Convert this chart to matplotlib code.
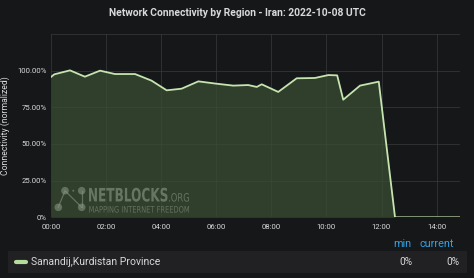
import matplotlib.pyplot as plt
from matplotlib.patches import Rectangle, Circle, PathPatch
from matplotlib.textpath import TextPath
from matplotlib.font_manager import FontProperties
from matplotlib.transforms import Affine2D

# datos (horas UTC, conectividad %)
hours = [0.0, 0.12, 0.69, 1.23, 1.78, 2.32, 3.05, 3.65, 4.2, 4.74, 5.35, 6.01,
         6.62, 7.16, 7.47, 7.65, 8.25, 8.92, 9.58, 10.07, 10.39, 10.61, 11.22,
         11.9, 12.49, 14.85]
connectivity = [95.7, 97.5, 100.2, 95.9, 100.0, 97.7, 97.7, 93.2, 86.6, 87.7,
                92.7, 91.1, 89.8, 90.2, 88.9, 90.7, 85.5, 94.8, 95.0, 97.0, 96.8,
                80.2, 89.8, 92.5, 0.0, 0.0]
xticks = [0, 2, 4, 6, 8, 10, 12, 14]
xtick_labels = ["00:00", "02:00", "04:00", "06:00", "08:00", "10:00", "12:00", "14:00"]
yticks = [0, 25, 50, 75, 100]
ytick_labels = ["0%", "25.00%", "50.00%", "75.00%", "100.00%"]
series_name = "Sanandij,Kurdistan Province"
min_val = "0%"
current_val = "0%"

bg = "#161719"
txt = "#d8d9da"
plt.rcParams['font.family'] = ['Roboto', 'DejaVu Sans']

fig = plt.figure(figsize=(4.74, 2.78), dpi=100, facecolor=bg)
ax = fig.add_axes([0.1076, 0.2183, 0.8629, 0.6594])
ax.set_facecolor(bg)

ax.fill_between(hours, connectivity, 0, color="#3a4c33", alpha=0.75, lw=0, zorder=2)
ax.plot(hours, connectivity, color="#c5e5b0", lw=1.3, zorder=3)

ax.set_xlim(0, 14.85)
ax.set_ylim(0, 125)
ax.set_xticks(xticks)
ax.set_xticklabels(xtick_labels)
ax.set_yticks(yticks)
ax.set_yticklabels(ytick_labels)
ax.set_yticks([125], minor=True)
ax.grid(color="#3a3b3e", lw=0.6, alpha=0.8, zorder=1)
ax.grid(which="minor", axis="y", color="#3a3b3e", lw=0.6, alpha=0.8)
ax.set_axisbelow(True)
for s in ax.spines.values():
    s.set_visible(False)
ax.tick_params(colors=txt, labelsize=5.6, length=0)
ax.tick_params(which="minor", length=0)
ax.tick_params(axis="x", pad=5)
ax.tick_params(axis="y", pad=3)
ax.set_ylabel("Connectivity (normalized)", color=txt, fontsize=6.2)
ax.yaxis.set_label_coords(-0.1, 0.5)

fig.text(0.5, 0.953, "Network Connectivity by Region - Iran: 2022-10-08 UTC",
         color=txt, fontsize=7.4, fontweight="bold", ha="center", va="center")

# marca de agua netblocks, en pixeles de la figura
ov = fig.add_axes([0, 0, 1, 1], zorder=5)
ov.set_xlim(0, 474)
ov.set_ylim(278, 0)
ov.axis("off")
ov.patch.set_alpha(0)
wm = "#8d9c87"


def texto_caja(s, x0, x1, y0, y1, bold=False, alpha=0.55):
    # dibuja el texto estirado para ocupar la caja en pixeles
    prop = FontProperties(family="DejaVu Sans", weight="bold" if bold else "normal")
    tp = TextPath((0, 0), s, size=10, prop=prop)
    ext = tp.get_extents()
    sx = (x1 - x0) / ext.width
    sy = (y1 - y0) / ext.height
    tr = Affine2D().translate(-ext.x0, -ext.y0).scale(sx, -sy).translate(x0, y1)
    ov.add_patch(PathPatch(tr.transform_path(tp), facecolor=wm, edgecolor="none",
                           alpha=alpha))


texto_caja("NETBLOCKS", 89, 167.5, 187.7, 201.7, bold=True, alpha=0.6)
texto_caja(".ORG", 169, 189, 193, 201.7)
texto_caja("MAPPING INTERNET FREEDOM", 89.3, 189, 206, 212.7)
for cx, cy, r in [(65, 190.7, 3.8), (81.7, 190.7, 3.8), (58.3, 207.3, 3.8),
                  (81.7, 207.3, 3.8), (73.3, 190.7, 1.0)]:
    ov.add_patch(Circle((cx, cy), r, color=wm, alpha=0.55, lw=0))
ov.plot([58.3, 65, 81.7], [207.3, 190.7, 207.3], color=wm, alpha=0.55, lw=0.9)
ov.plot([81.7, 81.7], [190.7, 207.3], color=wm, alpha=0.55, lw=0.9)

# leyenda tipo tabla
fig.text(0.849, 0.122, "min", color="#33a2e5", fontsize=7.8, ha="center", va="center")
fig.text(0.922, 0.122, "current", color="#33a2e5", fontsize=7.8, ha="center", va="center")
fig.patches.append(Rectangle((0.017, 0.018), 0.968, 0.078, transform=fig.transFigure,
                             facecolor="#212124", edgecolor="none", zorder=0))
fig.lines.append(plt.Line2D([0.034, 0.055], [0.057, 0.057], transform=fig.transFigure,
                            color="#b4dc9c", lw=3, solid_capstyle="round"))
fig.text(0.066, 0.057, series_name, color=txt, fontsize=7.5, va="center")
fig.text(0.871, 0.057, min_val, color=txt, fontsize=7.3, ha="right", va="center")
fig.text(0.969, 0.057, current_val, color=txt, fontsize=7.3, ha="right", va="center")

fig.savefig("out.png", dpi=100, facecolor=bg)
